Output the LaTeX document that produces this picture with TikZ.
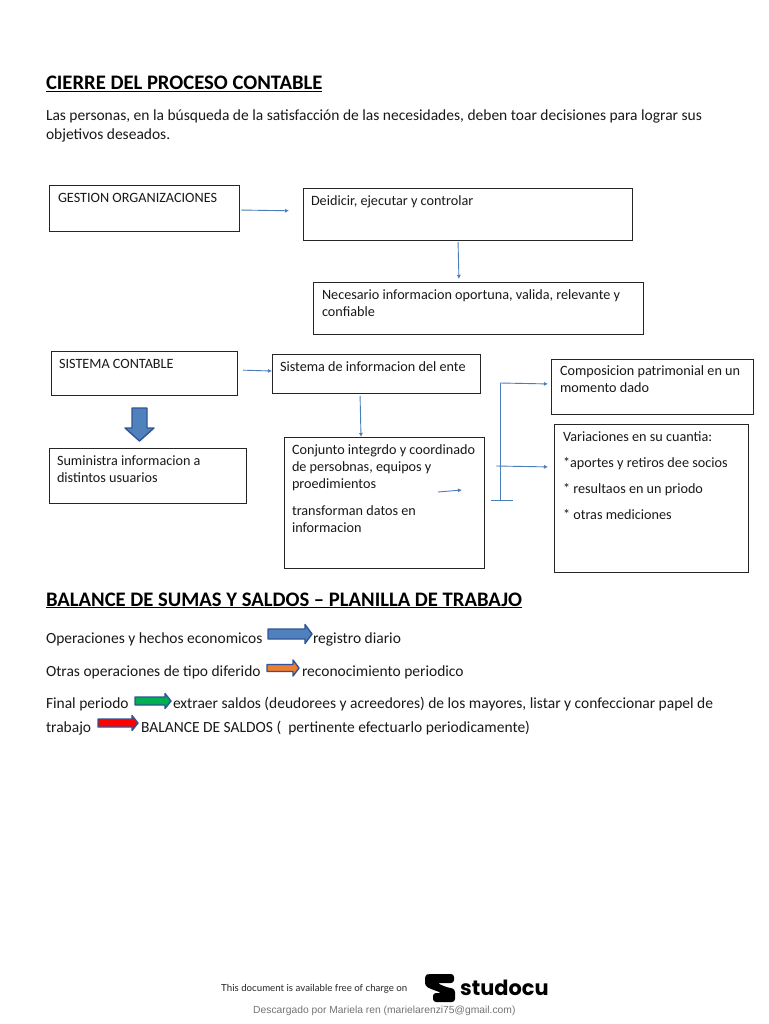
\documentclass[tikz,border=0pt]{standalone}
\usepackage{fontspec}
\setmainfont{Carlito}
\newfontfamily\logofont{Poppins}
\newfontfamily\footfont{Liberation Sans}
\newfontfamily\notefont{Lato}
\usetikzlibrary{arrows.meta}
\definecolor{conn}{HTML}{4A7EBB}
\definecolor{bluefill}{HTML}{4F81BD}
\definecolor{blueedge}{HTML}{2F5597}
\definecolor{orangefill}{HTML}{ED7D31}
\definecolor{greenfill}{HTML}{00B050}
\definecolor{redfill}{HTML}{FF0000}
\tikzset{
  x=1pt,y=-1pt,
  boxnode/.style={draw=black!85,line width=0.9pt,anchor=north west,inner sep=0pt,outer sep=0pt,fill=white},
  body/.style={anchor=base west,inner sep=0pt,outer sep=0pt,font=\fontsize{15.5}{17}\selectfont,text=black!90},
  head/.style={anchor=base west,inner sep=0pt,outer sep=0pt,font=\fontsize{20.65}{22}\selectfont\bfseries},
  link/.style={draw=conn,line width=0.9pt,-{Latex[length=4pt,width=4pt]}},
  linkplain/.style={draw=conn,line width=0.9pt},
  blockarrow/.style={draw=blueedge,line width=1.4pt,line join=round}
}
% name, x, y, w, h, left pad, top pad, text
\newcommand{\tbox}[8]{%
  \node[boxnode] (#1) at (#2,#3) {\begin{minipage}[c][#5pt][t]{#4pt}\fontsize{14.2}{17}\selectfont\color{black!90}\leftskip=#6pt\relax\rightskip=0pt plus 1fil\parindent=0pt\parskip=0pt\baselineskip=17pt\vspace*{#7pt}#8\end{minipage}};}
% x1, x2, yc, shaft half, head half, head length, fill
\newcommand{\rightblock}[7]{%
  \path[blockarrow,fill=#7] (#1,#3-#4) -- (#2-#6,#3-#4) -- (#2-#6,#3-#5) -- (#2,#3) -- (#2-#6,#3+#5) -- (#2-#6,#3+#4) -- (#1,#3+#4) -- cycle;}
\begin{document}
\begin{tikzpicture}
\useasboundingbox (0,0) rectangle (768,1024);
\fill[white] (0,0) rectangle (768,1024);

\node[head] (t1) at (46,90) {\underline{CIERRE DEL PROCESO CONTABLE}};
\node[body] (p1) at (46,121) {Las personas, en la búsqueda de la satisfacción de las necesidades, deben toar decisiones para lograr sus};
\node[body] (p2) at (46,140) {objetivos deseados.};

\tbox{A}{49}{185}{190}{46}{9}{8}{GESTION ORGANIZACIONES}
\tbox{B}{303}{188}{329}{52}{8}{8}{Deidicir, ejecutar y controlar}
\tbox{C}{313}{282}{330}{52}{9}{8}{Necesario informacion oportuna, valida, relevante y\\confiable}
\tbox{D}{51}{351}{186}{44}{8}{8}{SISTEMA CONTABLE}
\tbox{E}{272}{354}{208}{39}{8}{8}{Sistema de informacion del ente}
\tbox{F}{49}{448}{197}{55}{8}{8}{Suministra informacion a\\distintos usuarios}
\tbox{G}{284}{437}{200}{131}{8}{8}{Conjunto integrdo y coordinado\\de persobnas, equipos y\\proedimientos\\[9.5pt]transforman datos en\\informacion}
\tbox{H}{551}{359}{202}{55}{9}{7}{Composicion patrimonial en un\\momento dado}
\tbox{I}{554}{424}{194}{148}{9}{8}{Variaciones en su cuantia:\\[9pt]*aportes y retiros dee socios\\[9pt]* resultaos en un priodo\\[9pt]* otras mediciones}

\draw[link,shorten <=2pt,shorten >=14pt] ([yshift=-2]A.east) -- ([yshift=3]B.west);
\draw[link,shorten <=2pt,shorten >=3pt] ([xshift=-9.5]B.south) -- ([xshift=-19]C.north);
\draw[link,shorten <=6pt] ([yshift=3]D.east) -- ([yshift=2.5]E.west);
\draw[link,shorten <=3pt] ([xshift=-16]E.south) -- ([xshift=-23]G.north);

\coordinate (busTop) at (500,383);
\coordinate (busBottom) at (500,500);
\coordinate (busL) at (491,500);
\coordinate (busR) at (513,500);
\coordinate (branch) at (496,466);
\coordinate (stubA) at (438,492);
\coordinate (stubB) at (462,490);
\draw[linkplain] (busBottom) -- (busTop);
\draw[link,shorten >=3pt] (busTop) -- ([yshift=2.5]H.west);
\draw[link,shorten >=6pt] (branch) -- ([yshift=31]I.west);
\draw[linkplain] (busL) -- (busR);
\draw[link] (stubA) -- (stubB);

% thick down arrow
\path[blockarrow,fill=bluefill] (132,408) -- (147,408) -- (147,428) -- (154,428) -- (139.5,441) -- (125,428) -- (132,428) -- cycle;

\node[head] (t2) at (46,606) {\underline{BALANCE DE SUMAS Y SALDOS – PLANILLA DE TRABAJO}};
\node[body] (l1a) at (46,643) {Operaciones y hechos economicos};
\rightblock{268}{312}{634}{5}{9.5}{7}{bluefill}
\node[body] (l1b) at (313,643) {registro diario};
\node[body] (l2a) at (46,676) {Otras operaciones de tipo diferido};
\rightblock{267}{299}{668}{3.5}{8}{6}{orangefill}
\node[body] (l2b) at (302,676) {reconocimiento periodico};
\node[body] (l3a) at (46,708) {Final periodo};
\rightblock{135}{171}{701}{4}{7.5}{6}{greenfill}
\node[body] (l3b) at (173,708) {extraer saldos (deudorees y acreedores) de los mayores, listar y confeccionar papel de};
\node[body] (l4a) at (46,732) {trabajo};
\rightblock{98}{138}{723}{4}{7.5}{6}{redfill}
\node[body] (l4b) at (141,732) {BALANCE DE SALDOS (\ \ pertinente efectuarlo periodicamente)};

% footer
\node[anchor=base west,inner sep=0pt,font=\notefont\fontsize{9.7}{11}\selectfont,text=black!85] (f1) at (221,991) {This document is available free of charge on};
\fill[black,rounded corners=3pt] (429,974) -- (454,974) -- (454,983) -- (437,983) -- (446,987) -- (455,989) -- (455,1002) -- (433,1002) -- (433,993) -- (442,993) -- (431,989) -- (425,986) -- (425,975) -- cycle;
\node[anchor=base west,inner sep=0pt,font=\logofont\bfseries\fontsize{20.9}{24}\selectfont] (logo) at (460,995) {studocu};
\node[anchor=base west,inner sep=0pt,font=\footfont\fontsize{10.3}{12}\selectfont,text=black!55] (f2) at (253,1013) {Descargado por Mariela ren (marielarenzi75@gmail.com)};
\end{tikzpicture}
\end{document}
